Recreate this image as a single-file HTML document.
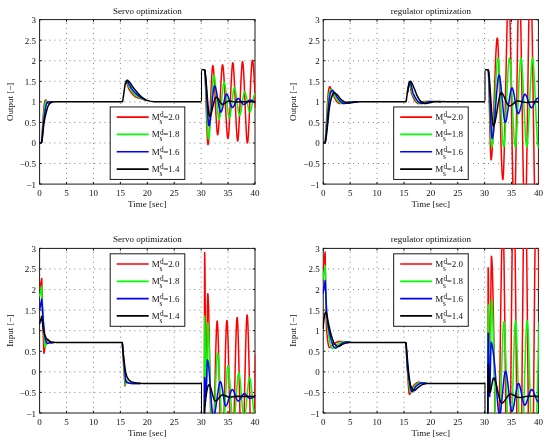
<!DOCTYPE html>
<html><head><meta charset="utf-8"><title>Servo and regulator optimization</title>
<style>html,body{margin:0;padding:0;background:#fff}body{width:550px;height:444px;overflow:hidden}</style>
</head><body>
<svg width="550" height="444" viewBox="0 0 550 444" style="display:block">
<rect width="550" height="444" fill="#fff"/>
<defs>
<clipPath id="ctl"><rect x="39.1" y="19.1" width="216.4" height="165.5"/></clipPath>
<clipPath id="ctr"><rect x="322.75" y="19.1" width="216.14999999999998" height="165.5"/></clipPath>
<clipPath id="cbl"><rect x="39.1" y="247.9" width="216.4" height="165.6"/></clipPath>
<clipPath id="cbr"><rect x="322.75" y="247.9" width="216.14999999999998" height="165.6"/></clipPath>
</defs>
<g stroke="#000" stroke-opacity="0.5" stroke-width="1"><line x1="66.53" y1="22.90" x2="66.53" y2="183.60" stroke-dasharray="1 4"/><line x1="93.45" y1="22.90" x2="93.45" y2="183.60" stroke-dasharray="1 4"/><line x1="120.38" y1="22.90" x2="120.38" y2="183.60" stroke-dasharray="1 4"/><line x1="147.30" y1="22.90" x2="147.30" y2="183.60" stroke-dasharray="1 4"/><line x1="174.22" y1="22.90" x2="174.22" y2="183.60" stroke-dasharray="1 4"/><line x1="201.15" y1="22.90" x2="201.15" y2="183.60" stroke-dasharray="1 4"/><line x1="228.07" y1="22.90" x2="228.07" y2="183.60" stroke-dasharray="1 4"/><line x1="44.40" y1="40.16" x2="254.50" y2="40.16" stroke-dasharray="1 4"/><line x1="44.40" y1="60.73" x2="254.50" y2="60.73" stroke-dasharray="1 4"/><line x1="44.40" y1="81.29" x2="254.50" y2="81.29" stroke-dasharray="1 4"/><line x1="44.40" y1="101.85" x2="254.50" y2="101.85" stroke-dasharray="1 4"/><line x1="44.40" y1="122.41" x2="254.50" y2="122.41" stroke-dasharray="1 4"/><line x1="44.40" y1="142.97" x2="254.50" y2="142.97" stroke-dasharray="1 4"/><line x1="44.40" y1="163.54" x2="254.50" y2="163.54" stroke-dasharray="1 4"/></g>
<path d="M39.60,184.1 v-2.2 M39.60,19.6 v2.2 M39.6,19.60 h2.2 M255.0,19.60 h-2.2 M66.53,184.1 v-2.2 M66.53,19.6 v2.2 M39.6,40.16 h2.2 M255.0,40.16 h-2.2 M93.45,184.1 v-2.2 M93.45,19.6 v2.2 M39.6,60.73 h2.2 M255.0,60.73 h-2.2 M120.38,184.1 v-2.2 M120.38,19.6 v2.2 M39.6,81.29 h2.2 M255.0,81.29 h-2.2 M147.30,184.1 v-2.2 M147.30,19.6 v2.2 M39.6,101.85 h2.2 M255.0,101.85 h-2.2 M174.22,184.1 v-2.2 M174.22,19.6 v2.2 M39.6,122.41 h2.2 M255.0,122.41 h-2.2 M201.15,184.1 v-2.2 M201.15,19.6 v2.2 M39.6,142.97 h2.2 M255.0,142.97 h-2.2 M228.07,184.1 v-2.2 M228.07,19.6 v2.2 M39.6,163.54 h2.2 M255.0,163.54 h-2.2 M255.00,184.1 v-2.2 M255.00,19.6 v2.2 M39.6,184.10 h2.2 M255.0,184.10 h-2.2" stroke="#111" stroke-width="1" fill="none"/>
<rect x="39.6" y="19.6" width="215.4" height="164.5" fill="none" stroke="#1a1a1a" stroke-width="1"/>
<g clip-path="url(#ctl)" fill="none" stroke-width="1.5" stroke-linejoin="round" stroke-linecap="butt">
<path d="M41.28,142.97 L41.39,142.79 L41.52,142.09 L41.80,139.38 L42.74,124.00 L43.55,112.13 L44.23,104.48 L44.50,102.44 L44.63,101.85 L45.17,100.46 L45.44,100.06 L45.66,99.96 L45.84,100.06 L45.98,100.25 L46.66,101.64 L47.33,102.61 L47.73,103.09 L48.01,103.26 L48.27,103.28 L48.68,103.15 L50.16,102.30 L52.46,101.91 M125.25,84.17 L125.77,82.44 L125.90,82.32 L126.04,82.34 L126.44,82.72 L126.71,83.18 L127.12,84.11 L128.74,88.68 L129.41,89.96 L130.49,91.59 L131.70,93.17 L133.73,95.48 L134.81,96.49 L135.35,96.86 L135.89,97.13 L137.51,97.76 L141.56,98.89 L146.42,100.37 M204.34,69.77 L204.47,69.77 L204.61,70.10 L204.74,71.03 L205.15,77.01 L205.69,90.47 L206.63,119.92 L207.17,134.50 L207.58,141.86 L207.85,144.30 L207.98,144.62 L208.12,144.44 L208.25,143.92 L208.52,141.91 L208.79,138.77 L209.20,132.28 L209.74,121.17 L211.09,89.11 L211.76,75.62 L212.30,68.37 L212.57,66.36 L212.71,65.84 L212.84,65.66 L212.98,65.82 L213.11,66.28 L213.38,68.03 L213.65,70.78 L214.06,76.46 L214.59,86.18 L215.94,114.23 L216.62,126.03 L217.16,132.38 L217.43,134.13 L217.57,134.59 L217.70,134.75 L217.84,134.59 L217.97,134.13 L218.24,132.35 L218.51,129.57 L218.92,123.83 L219.46,113.98 L220.94,82.96 L221.48,73.66 L222.02,67.24 L222.29,65.46 L222.43,65.00 L222.56,64.84 L222.69,64.97 L222.83,65.37 L223.10,66.90 L223.37,69.31 L223.78,74.34 L224.45,85.58 L225.94,115.16 L226.61,126.95 L227.02,132.48 L227.28,135.29 L227.56,137.27 L227.83,138.32 L227.96,138.45 L228.09,138.28 L228.37,136.96 L228.63,134.48 L228.91,130.98 L229.58,118.83 L231.07,85.26 L231.61,74.60 L232.01,68.39 L232.28,65.38 L232.55,63.46 L232.69,62.95 L232.82,62.78 L232.96,62.96 L233.09,63.48 L233.36,65.46 L233.90,72.64 L234.44,83.04 L235.93,117.71 L236.47,128.71 L237.01,136.82 L237.28,139.38 L237.54,140.74 L237.68,140.92 L237.82,140.74 L238.09,139.36 L238.36,136.75 L238.76,130.90 L239.44,117.34 L240.78,85.12 L241.33,73.95 L241.87,65.72 L242.14,63.11 L242.41,61.73 L242.54,61.55 L242.68,61.73 L242.94,63.15 L243.22,65.82 L243.62,71.82 L244.16,82.66 L245.65,118.79 L246.19,130.25 L246.73,138.70 L247.00,141.37 L247.27,142.79 L247.40,142.97 L247.53,142.80 L247.81,141.42 L248.08,138.81 L248.48,132.95 L249.16,119.32 L250.51,86.47 L251.04,74.78 L251.59,65.83 L251.86,62.78 L252.12,60.89 L252.26,60.43 L252.37,60.31 L252.53,60.46 L252.67,60.82 L252.94,62.12 L253.34,65.51 L253.75,70.52 L254.56,84.91 L255.50,108.02" stroke="#ff0000"/>
<path d="M41.39,142.86 L41.66,141.71 L42.06,138.13 L43.95,113.63 L44.77,105.47 L45.17,103.08 L45.71,101.64 L45.98,101.19 L46.25,101.03 L46.66,101.15 L47.60,101.85 L48.01,102.04 L48.81,102.03 L50.98,101.86 L53.00,101.85 M125.36,83.77 L125.77,82.36 L126.04,81.71 L126.28,81.49 L126.44,81.53 L126.71,81.74 L126.98,82.11 L127.39,82.89 L129.00,86.80 L131.03,90.22 L131.98,91.60 L133.19,93.09 L134.27,94.25 L135.22,95.09 L136.97,96.25 L139.13,97.38 L143.86,99.42 L146.29,100.30 M204.47,69.77 L204.61,70.00 L204.88,71.71 L205.15,74.89 L205.42,79.30 L205.96,90.83 L207.17,120.95 L207.71,131.68 L208.12,136.93 L208.38,138.64 L208.52,138.86 L208.66,138.74 L208.79,138.40 L209.06,137.08 L209.33,134.99 L209.74,130.63 L210.41,120.90 L211.90,95.29 L212.57,85.08 L212.98,80.29 L213.25,77.86 L213.52,76.14 L213.78,75.24 L213.92,75.12 L214.06,75.21 L214.33,75.91 L214.59,77.22 L215.00,80.20 L215.68,87.16 L217.16,105.89 L217.84,113.24 L218.24,116.56 L218.51,118.16 L218.78,119.18 L218.92,119.44 L219.05,119.53 L219.19,119.46 L219.32,119.23 L219.59,118.38 L220.13,115.26 L220.81,109.39 L222.29,93.61 L222.83,88.52 L223.24,85.45 L223.51,83.88 L223.78,82.77 L224.04,82.19 L224.18,82.11 L224.32,82.18 L224.59,82.75 L224.86,83.82 L225.26,86.25 L225.94,91.92 L227.42,107.18 L228.09,113.17 L228.50,115.88 L228.77,117.18 L229.04,118.01 L229.18,118.23 L229.31,118.30 L229.44,118.24 L229.58,118.05 L229.85,117.35 L230.39,114.77 L231.07,109.94 L232.55,96.93 L233.09,92.74 L233.50,90.21 L233.77,88.92 L234.03,88.00 L234.31,87.52 L234.44,87.46 L234.58,87.51 L234.84,87.95 L235.12,88.78 L235.52,90.65 L236.19,95.04 L237.68,106.83 L238.36,111.46 L238.76,113.55 L239.03,114.56 L239.30,115.20 L239.44,115.36 L239.57,115.42 L239.84,115.23 L240.11,114.69 L240.38,113.84 L240.78,112.07 L241.33,109.01 L242.81,99.04 L243.35,95.83 L243.89,93.36 L244.16,92.51 L244.43,91.96 L244.70,91.77 L244.97,91.94 L245.24,92.40 L245.65,93.59 L246.46,97.29 L247.94,105.88 L248.62,109.25 L249.02,110.77 L249.29,111.50 L249.56,111.97 L249.83,112.13 L250.10,111.99 L250.37,111.57 L250.64,110.92 L251.04,109.57 L251.72,106.57 L253.21,98.94 L254.02,95.65 L254.42,94.60 L254.69,94.18 L254.96,94.04 L255.09,94.07 L255.50,94.45" stroke="#00ff00"/>
<path d="M41.39,142.88 L41.66,141.88 L42.06,138.77 L43.28,124.94 L44.23,116.92 L44.77,112.99 L45.44,108.80 L45.84,106.52 L46.25,104.72 L46.52,103.91 L47.06,102.73 L47.47,102.10 L47.73,101.88 L53.00,101.85 M125.50,83.31 L125.90,82.01 L126.31,81.04 L126.58,80.72 L126.71,80.67 L127.12,80.87 L127.66,81.63 L129.00,84.35 L131.57,88.51 L133.19,90.70 L134.81,92.58 L137.11,94.66 L139.67,96.59 L141.16,97.54 L143.18,98.72 L145.61,99.97 M204.47,69.77 L204.61,69.91 L204.74,70.33 L205.01,71.91 L205.55,77.60 L206.09,85.76 L207.58,111.93 L208.12,119.57 L208.38,122.43 L208.66,124.47 L208.93,125.56 L209.06,125.70 L209.20,125.63 L209.33,125.42 L209.60,124.63 L209.87,123.37 L210.28,120.74 L210.95,114.84 L212.44,99.12 L213.11,92.72 L213.78,88.00 L214.19,86.35 L214.46,85.86 L214.57,85.81 L214.73,85.86 L215.13,86.42 L215.54,87.52 L215.94,89.07 L216.76,93.20 L218.51,103.96 L219.19,107.63 L219.59,109.44 L220.00,110.85 L220.40,111.77 L220.67,112.08 L220.94,112.11 L221.34,111.72 L221.62,111.21 L222.02,110.13 L222.83,107.08 L224.45,99.64 L225.12,96.93 L225.80,94.98 L226.21,94.31 L226.48,94.13 L226.75,94.16 L227.15,94.51 L227.42,94.91 L227.83,95.74 L228.63,98.00 L230.26,103.43 L230.93,105.40 L231.61,106.83 L232.01,107.32 L232.28,107.47 L232.55,107.46 L232.96,107.24 L233.63,106.40 L234.44,104.84 L235.93,101.42 L236.60,100.03 L237.28,99.00 L237.68,98.62 L237.95,98.50 L238.22,98.48 L238.62,98.61 L239.30,99.15 L240.11,100.16 L242.27,103.38 L242.94,104.09 L243.35,104.36 L243.62,104.46 L243.89,104.48 L244.29,104.41 L245.11,103.98 L245.92,103.27 L248.21,100.91 L249.02,100.34 L249.69,100.13 L250.51,100.15 L251.32,100.28 L252.12,100.52 L252.80,100.80 L254.15,101.64 L255.50,102.88" stroke="#0000ff"/>
<path d="M39.50,142.97 L41.28,142.97 L41.39,142.89 L41.66,142.09 L42.06,140.25 L42.47,137.35 L43.55,126.73 L43.95,123.31 L44.63,119.34 L45.30,116.04 L46.79,110.06 L47.73,106.91 L48.14,105.96 L48.95,104.58 L49.62,103.70 L50.30,103.08 L51.38,102.41 L52.19,102.10 L53.67,101.93 L55.30,101.85 L122.28,101.85 L122.39,101.78 L122.53,101.50 L122.93,99.64 L124.69,87.26 L125.09,84.81 L125.63,82.98 L126.17,81.52 L126.71,80.51 L127.12,80.19 L127.52,80.25 L127.93,80.49 L129.55,82.15 L130.36,83.27 L132.11,86.00 L134.14,88.70 L137.51,92.76 L139.81,95.29 L141.43,96.79 L144.26,98.97 L145.88,99.98 L147.23,100.54 L149.93,101.13 L152.50,101.50 L154.39,101.64 L158.98,101.79 L163.43,101.85 L201.50,101.85 M201.50,69.77 L204.47,69.77 L204.61,69.87 L204.74,70.15 L205.15,71.98 L205.55,75.11 L206.09,80.80 L207.71,102.11 L208.38,109.83 L208.79,113.33 L209.06,115.01 L209.33,116.08 L209.47,116.35 L209.60,116.45 L209.87,116.35 L210.28,115.86 L210.55,115.34 L210.95,114.28 L211.76,111.44 L213.65,103.24 L214.46,100.14 L214.87,98.90 L215.27,97.95 L215.68,97.34 L215.94,97.15 L216.22,97.13 L216.62,97.26 L217.03,97.54 L217.43,97.93 L218.24,98.99 L220.13,102.04 L220.94,103.19 L221.75,104.01 L222.16,104.24 L222.43,104.31 L223.10,104.25 L223.91,103.95 L224.72,103.46 L226.61,102.07 L227.42,101.54 L228.23,101.17 L228.91,101.03 L230.39,101.14 L233.77,101.87 L235.25,102.05 L244.03,101.85 L255.50,101.85" stroke="#000000"/>
<line x1="201.50" x2="201.50" y1="101.10" y2="70.52" stroke="#000" stroke-width="1.05"/>
</g>
<g font-family='"Liberation Serif", serif' font-size="9" fill="#111">
<text x="39.60" y="195.60" text-anchor="middle">0</text>
<text x="66.53" y="195.60" text-anchor="middle">5</text>
<text x="93.45" y="195.60" text-anchor="middle">10</text>
<text x="120.38" y="195.60" text-anchor="middle">15</text>
<text x="147.30" y="195.60" text-anchor="middle">20</text>
<text x="174.22" y="195.60" text-anchor="middle">25</text>
<text x="201.15" y="195.60" text-anchor="middle">30</text>
<text x="228.07" y="195.60" text-anchor="middle">35</text>
<text x="255.00" y="195.60" text-anchor="middle">40</text>
<text x="36.10" y="23.10" text-anchor="end">3</text>
<text x="36.10" y="43.66" text-anchor="end">2.5</text>
<text x="36.10" y="64.22" text-anchor="end">2</text>
<text x="36.10" y="84.79" text-anchor="end">1.5</text>
<text x="36.10" y="105.35" text-anchor="end">1</text>
<text x="36.10" y="125.91" text-anchor="end">0.5</text>
<text x="36.10" y="146.47" text-anchor="end">0</text>
<text x="36.10" y="167.04" text-anchor="end">−0.5</text>
<text x="36.10" y="187.60" text-anchor="end">−1</text>
<text x="147.30" y="206.60" text-anchor="middle">Time [sec]</text>
<text x="147.30" y="13.50" text-anchor="middle">Servo optimization</text>
<text transform="translate(12.80,101.85) rotate(-90)" text-anchor="middle">Output [−]</text>
</g>
<rect x="110.20" y="106.95" width="74.6" height="72.5" fill="#fff" stroke="#1a1a1a" stroke-width="1"/>
<g font-family='"Liberation Serif", serif' font-size="9" fill="#111">
<line x1="116.70" y1="117.15" x2="148.70" y2="117.15" stroke="#ff0000" stroke-width="1.7"/>
<text y="120.10"><tspan x="151.70">M</tspan><tspan font-size="7.3" x="160.10" y="117.30">d</tspan><tspan font-size="7.3" x="159.50" y="124.10">s</tspan><tspan x="163.20" y="120.10">=2.0</tspan></text>
<line x1="116.70" y1="134.45" x2="148.70" y2="134.45" stroke="#00ff00" stroke-width="1.7"/>
<text y="137.40"><tspan x="151.70">M</tspan><tspan font-size="7.3" x="160.10" y="134.60">d</tspan><tspan font-size="7.3" x="159.50" y="141.40">s</tspan><tspan x="163.20" y="137.40">=1.8</tspan></text>
<line x1="116.70" y1="151.75" x2="148.70" y2="151.75" stroke="#0000ff" stroke-width="1.7"/>
<text y="154.70"><tspan x="151.70">M</tspan><tspan font-size="7.3" x="160.10" y="151.90">d</tspan><tspan font-size="7.3" x="159.50" y="158.70">s</tspan><tspan x="163.20" y="154.70">=1.6</tspan></text>
<line x1="116.70" y1="169.05" x2="148.70" y2="169.05" stroke="#000000" stroke-width="1.7"/>
<text y="172.00"><tspan x="151.70">M</tspan><tspan font-size="7.3" x="160.10" y="169.20">d</tspan><tspan font-size="7.3" x="159.50" y="176.00">s</tspan><tspan x="163.20" y="172.00">=1.4</tspan></text>
</g>
<g stroke="#000" stroke-opacity="0.5" stroke-width="1"><line x1="350.14" y1="22.90" x2="350.14" y2="183.60" stroke-dasharray="1 4"/><line x1="377.04" y1="22.90" x2="377.04" y2="183.60" stroke-dasharray="1 4"/><line x1="403.93" y1="22.90" x2="403.93" y2="183.60" stroke-dasharray="1 4"/><line x1="430.82" y1="22.90" x2="430.82" y2="183.60" stroke-dasharray="1 4"/><line x1="457.72" y1="22.90" x2="457.72" y2="183.60" stroke-dasharray="1 4"/><line x1="484.61" y1="22.90" x2="484.61" y2="183.60" stroke-dasharray="1 4"/><line x1="511.51" y1="22.90" x2="511.51" y2="183.60" stroke-dasharray="1 4"/><line x1="328.05" y1="40.16" x2="537.90" y2="40.16" stroke-dasharray="1 4"/><line x1="328.05" y1="60.73" x2="537.90" y2="60.73" stroke-dasharray="1 4"/><line x1="328.05" y1="81.29" x2="537.90" y2="81.29" stroke-dasharray="1 4"/><line x1="328.05" y1="101.85" x2="537.90" y2="101.85" stroke-dasharray="1 4"/><line x1="328.05" y1="122.41" x2="537.90" y2="122.41" stroke-dasharray="1 4"/><line x1="328.05" y1="142.97" x2="537.90" y2="142.97" stroke-dasharray="1 4"/><line x1="328.05" y1="163.54" x2="537.90" y2="163.54" stroke-dasharray="1 4"/></g>
<path d="M323.25,184.1 v-2.2 M323.25,19.6 v2.2 M323.25,19.60 h2.2 M538.4,19.60 h-2.2 M350.14,184.1 v-2.2 M350.14,19.6 v2.2 M323.25,40.16 h2.2 M538.4,40.16 h-2.2 M377.04,184.1 v-2.2 M377.04,19.6 v2.2 M323.25,60.73 h2.2 M538.4,60.73 h-2.2 M403.93,184.1 v-2.2 M403.93,19.6 v2.2 M323.25,81.29 h2.2 M538.4,81.29 h-2.2 M430.82,184.1 v-2.2 M430.82,19.6 v2.2 M323.25,101.85 h2.2 M538.4,101.85 h-2.2 M457.72,184.1 v-2.2 M457.72,19.6 v2.2 M323.25,122.41 h2.2 M538.4,122.41 h-2.2 M484.61,184.1 v-2.2 M484.61,19.6 v2.2 M323.25,142.97 h2.2 M538.4,142.97 h-2.2 M511.51,184.1 v-2.2 M511.51,19.6 v2.2 M323.25,163.54 h2.2 M538.4,163.54 h-2.2 M538.40,184.1 v-2.2 M538.40,19.6 v2.2 M323.25,184.10 h2.2 M538.4,184.10 h-2.2" stroke="#111" stroke-width="1" fill="none"/>
<rect x="323.25" y="19.6" width="215.14999999999998" height="164.5" fill="none" stroke="#1a1a1a" stroke-width="1"/>
<g clip-path="url(#ctr)" fill="none" stroke-width="1.5" stroke-linejoin="round" stroke-linecap="butt">
<path d="M324.89,142.97 L325.02,142.68 L325.16,141.86 L325.56,136.94 L326.64,118.23 L327.32,105.25 L328.00,95.68 L328.54,90.25 L329.07,87.93 L329.48,86.87 L329.62,86.69 L329.75,86.63 L329.88,86.68 L330.15,86.98 L330.43,87.50 L331.37,89.75 L332.99,94.30 L334.20,97.05 L335.42,99.42 L336.37,101.00 L336.90,101.71 L337.99,102.71 L338.80,103.29 L339.47,103.55 L340.28,103.54 L341.23,103.34 L343.25,102.67 L344.06,102.47 L346.89,102.01 L349.32,101.77 L351.49,101.69 L356.75,101.83 M407.24,93.62 L408.59,84.78 L409.00,83.22 L409.13,82.99 L409.26,82.94 L409.40,83.05 L409.54,83.30 L409.94,84.76 L411.02,90.89 L411.43,92.77 L412.37,95.42 L413.59,98.28 L414.67,100.29 L415.61,101.57 L416.96,102.84 L417.50,103.24 L418.04,103.52 L418.44,103.61 L418.85,103.60 L419.66,103.32 L421.42,102.25 L422.09,101.93 L423.71,101.56 L425.06,101.38 L427.22,101.41 L432.49,101.82 M435.05,101.85 L441.39,101.85 M488.08,69.77 L488.24,70.52 L488.38,72.21 L488.78,82.08 L489.19,97.14 L490.13,137.90 L490.53,151.52 L490.81,157.40 L490.94,159.09 L491.08,159.81 L491.21,159.73 L491.48,158.52 L491.88,154.43 L492.29,147.99 L492.70,139.60 L493.37,122.44 L495.12,71.82 L495.67,58.34 L496.07,49.96 L496.48,43.51 L496.88,39.43 L497.01,38.66 L497.15,38.22 L497.26,38.11 L497.42,38.46 L497.56,39.27 L497.83,42.22 L498.10,46.75 L498.77,63.79 L499.44,86.52 L500.93,141.67 L501.61,162.27 L502.01,171.45 L502.28,175.83 L502.55,178.61 L502.69,179.33 L502.82,179.58 L502.96,179.28 L503.23,177.01 L503.63,169.79 L504.31,149.44 L504.98,121.61 L506.74,38.66 L507.54,7.61 L507.95,-3.52 L508.22,-8.81 L508.36,-10.40 L509.03,-10.40 L509.17,-9.54 L509.30,-6.74 L509.57,0.94 L510.25,30.13 L510.78,60.87 L512.27,155.07 L513.08,196.73 L513.35,206.87 L513.62,214.10 L514.57,214.10 L514.70,213.68 L514.97,205.01 L515.51,179.90 L516.05,147.21 L517.53,45.74 L518.35,2.01 L518.62,-8.07 L518.75,-10.40 L519.83,-10.40 L519.97,-9.73 L520.24,-1.04 L520.91,29.86 L523.07,164.83 L523.88,205.70 L524.15,214.10 L525.63,214.10 L525.77,213.60 L525.90,208.31 L526.45,181.33 L526.99,147.36 L528.61,34.56 L529.01,10.73 L529.41,-8.72 L529.55,-10.40 L531.31,-10.40 L531.71,7.02 L532.25,37.17 L534.14,165.86 L534.95,213.13 L535.09,214.10 L538.33,214.10 L538.60,205.75 L539.00,188.88 L539.81,147.06 L540.75,84.79 L541.84,-3.99 L541.97,-10.40 L542.24,-10.40" stroke="#ff0000"/>
<path d="M324.89,142.97 L325.02,142.79 L325.30,141.42 L325.83,135.72 L326.92,120.55 L327.86,105.05 L328.13,101.85 L328.81,96.02 L329.35,92.58 L329.75,91.16 L330.43,89.99 L330.83,89.60 L331.10,89.51 L331.37,89.61 L331.64,89.86 L332.05,90.44 L333.12,92.29 L335.01,96.60 L335.56,97.61 L336.10,98.41 L337.18,99.82 L338.39,101.13 L340.42,102.88 L341.23,103.41 L341.90,103.58 L342.85,103.49 L343.79,103.28 L346.49,102.52 L350.27,101.92 L353.64,101.73 L357.15,101.78 M407.24,93.62 L408.73,84.63 L409.13,82.99 L409.40,82.42 L409.56,82.32 L409.81,82.50 L409.94,82.74 L410.35,83.99 L411.97,91.85 L412.24,92.83 L412.91,94.54 L414.26,97.51 L415.48,99.69 L416.15,100.67 L416.69,101.32 L418.04,102.54 L418.72,103.05 L419.25,103.37 L419.80,103.57 L420.34,103.62 L420.88,103.54 L421.55,103.33 L424.52,101.99 L426.68,101.57 L427.76,101.46 L428.98,101.45 L433.30,101.72 M435.32,101.83 L441.39,101.85 M488.08,69.77 L488.24,70.21 L488.51,72.73 L488.78,77.17 L489.05,83.16 L490.53,127.30 L491.08,140.21 L491.48,145.89 L491.62,146.78 L491.75,147.09 L491.88,146.96 L492.15,146.00 L492.56,142.93 L492.97,138.18 L493.37,132.04 L494.05,119.53 L495.80,82.73 L496.34,72.90 L496.75,66.76 L497.15,62.01 L497.56,58.94 L497.83,57.97 L497.96,57.85 L498.10,58.00 L498.23,58.43 L498.50,60.12 L498.77,62.78 L499.44,72.97 L500.12,86.77 L501.61,120.92 L502.42,136.37 L502.82,141.95 L503.09,144.61 L503.36,146.30 L503.50,146.73 L503.63,146.88 L503.76,146.74 L503.90,146.33 L504.31,143.58 L504.71,138.85 L505.12,132.50 L505.79,119.29 L507.54,80.38 L508.36,66.25 L508.76,61.41 L509.03,59.24 L509.30,58.05 L509.44,57.85 L509.57,57.94 L509.71,58.31 L509.98,59.83 L510.38,63.87 L511.06,74.42 L511.73,88.23 L513.22,121.74 L513.89,134.57 L514.29,140.52 L514.57,143.52 L514.97,146.32 L515.11,146.74 L515.24,146.88 L515.38,146.74 L515.51,146.31 L515.91,143.48 L516.32,138.61 L516.73,132.08 L517.40,118.55 L519.02,81.98 L519.83,67.31 L520.24,62.20 L520.50,59.88 L520.77,58.54 L520.91,58.28 L521.04,58.31 L521.32,59.20 L521.72,62.41 L522.39,71.87 L523.07,85.00 L524.69,121.29 L525.50,136.36 L525.90,141.84 L526.17,144.49 L526.44,146.20 L526.58,146.68 L526.74,146.88 L526.85,146.79 L526.99,146.42 L527.12,145.79 L527.39,143.77 L527.79,139.09 L528.20,132.74 L528.88,119.44 L530.50,82.99 L531.31,68.00 L531.71,62.60 L531.98,60.03 L532.25,58.41 L532.38,57.99 L532.52,57.85 L532.65,57.99 L532.92,59.10 L533.33,62.60 L534.00,72.47 L534.68,85.87 L536.43,125.08 L537.25,139.09 L537.65,143.77 L538.06,146.42 L538.19,146.79 L538.30,146.88 L538.46,146.76 L538.73,146.11 L539.00,145.03" stroke="#00ff00"/>
<path d="M324.89,142.97 L325.02,142.85 L325.16,142.49 L325.43,141.14 L325.97,136.52 L327.45,119.69 L328.54,105.70 L328.94,101.85 L329.75,96.37 L330.29,93.59 L330.69,92.25 L331.50,90.98 L331.91,90.56 L332.31,90.35 L332.72,90.41 L333.12,90.73 L334.75,92.97 L337.04,97.09 L338.52,99.13 L339.61,100.42 L340.55,101.38 L342.44,102.99 L343.25,103.47 L343.79,103.58 L344.87,103.48 L348.51,102.54 L352.02,102.01 L355.00,101.78 L357.69,101.73 M407.51,92.17 L408.59,85.94 L409.13,83.41 L409.40,82.50 L409.67,81.91 L409.81,81.75 L409.94,81.70 L410.07,81.74 L410.21,81.88 L410.48,82.38 L410.88,83.62 L412.50,90.96 L412.91,92.47 L413.18,93.21 L414.67,96.36 L416.01,98.76 L417.37,100.65 L418.04,101.38 L418.58,101.85 L419.66,102.68 L420.47,103.21 L421.14,103.51 L421.82,103.62 L422.50,103.56 L423.31,103.37 L426.41,102.18 L427.62,101.87 L431.27,101.54 L434.78,101.58 M438.83,101.78 L441.26,101.85 M488.11,69.78 L488.24,70.09 L488.51,71.90 L488.92,77.18 L489.46,87.78 L490.67,117.35 L491.21,128.72 L491.48,133.11 L491.75,136.33 L492.02,138.14 L492.15,138.44 L492.29,138.40 L492.43,138.22 L492.83,136.86 L493.24,134.43 L493.64,131.08 L494.59,120.57 L496.48,95.07 L497.28,85.44 L497.69,81.51 L498.10,78.39 L498.50,76.23 L498.77,75.41 L498.91,75.19 L499.04,75.12 L499.18,75.18 L499.31,75.38 L499.58,76.12 L499.99,78.06 L500.39,80.83 L501.20,88.25 L502.96,107.67 L503.63,114.27 L504.03,117.50 L504.44,120.01 L504.85,121.63 L505.12,122.14 L505.25,122.21 L505.52,122.05 L505.93,121.25 L506.33,119.85 L506.74,117.95 L507.54,113.00 L509.44,98.97 L510.25,93.62 L510.65,91.44 L511.06,89.70 L511.46,88.49 L511.73,88.03 L511.87,87.91 L512.13,87.90 L512.27,88.01 L512.54,88.42 L512.94,89.47 L513.35,90.98 L514.16,95.03 L515.91,105.63 L516.59,109.24 L517.00,111.00 L517.40,112.37 L517.81,113.26 L518.08,113.53 L518.21,113.57 L518.48,113.48 L518.88,113.03 L519.29,112.24 L519.69,111.18 L520.50,108.39 L522.39,100.49 L523.21,97.48 L523.61,96.25 L524.01,95.27 L524.42,94.59 L524.69,94.33 L524.83,94.26 L525.10,94.26 L525.50,94.51 L525.90,95.02 L526.31,95.75 L527.12,97.74 L529.01,103.46 L529.82,105.62 L530.23,106.49 L530.63,107.15 L531.03,107.58 L531.31,107.71 L531.71,107.68 L532.12,107.42 L532.52,106.96 L532.92,106.35 L533.74,104.77 L535.62,100.54 L536.16,99.53 L536.71,98.75 L537.25,98.27 L537.51,98.16 L537.78,98.16 L538.33,98.39 L539.00,98.97" stroke="#0000ff"/>
<path d="M323.00,142.97 L324.89,142.97 L325.02,142.90 L325.30,142.35 L325.56,141.30 L326.11,138.01 L326.64,133.60 L328.00,121.13 L328.81,112.35 L329.48,107.43 L330.02,104.08 L330.56,101.25 L330.96,99.49 L331.50,97.54 L332.05,95.89 L332.58,94.67 L333.26,93.64 L333.80,93.02 L334.20,92.81 L334.61,92.84 L335.15,93.07 L336.77,94.26 L337.58,95.16 L339.88,98.25 L341.50,99.83 L342.85,100.97 L343.93,101.67 L345.55,102.43 L346.76,102.89 L347.84,103.13 L348.65,103.16 L349.73,103.07 L352.83,102.53 L357.02,101.94 L360.94,101.74 L368.76,101.85 L405.84,101.85 L406.02,101.55 L406.30,100.28 L407.11,94.38 L408.86,85.08 L409.26,83.35 L409.67,82.07 L409.94,81.53 L410.07,81.37 L410.26,81.29 L410.62,81.39 L411.02,81.75 L411.43,82.31 L411.97,83.32 L414.67,89.57 L416.96,95.41 L417.50,96.50 L418.99,99.06 L420.06,100.63 L421.01,101.64 L422.90,102.92 L423.57,103.26 L424.25,103.51 L425.06,103.62 L426.27,103.52 L427.76,103.21 L430.87,102.30 L432.22,101.98 L434.11,101.77 L436.67,101.62 L439.24,101.62 L446.93,101.85 L485.00,101.85 M485.00,69.77 L488.11,69.78 L488.24,69.93 L488.38,70.28 L488.64,71.57 L489.19,76.11 L489.73,82.70 L491.48,109.54 L492.15,118.39 L492.56,122.37 L492.83,124.27 L493.10,125.48 L493.24,125.80 L493.37,125.91 L493.50,125.88 L493.77,125.65 L494.18,124.92 L494.59,123.76 L495.12,121.66 L496.07,116.81 L498.23,103.48 L499.18,98.30 L499.72,95.92 L500.12,94.52 L500.66,93.25 L501.07,92.83 L501.47,92.85 L502.01,93.17 L502.42,93.60 L502.96,94.39 L504.03,96.51 L506.19,101.64 L507.14,103.65 L507.68,104.59 L508.09,105.16 L508.62,105.70 L509.03,105.92 L509.44,105.96 L509.98,105.88 L510.51,105.70 L511.19,105.36 L512.27,104.61 L514.70,102.59 L515.64,101.89 L516.59,101.35 L517.53,101.06 L518.48,101.04 L519.83,101.19 L524.69,102.22 L526.72,102.46 L528.88,102.37 L532.92,101.81 L534.54,101.66 L536.71,101.68 L539.00,101.85" stroke="#000000"/>
<line x1="485.00" x2="485.00" y1="101.10" y2="70.52" stroke="#000" stroke-width="1.05"/>
</g>
<g font-family='"Liberation Serif", serif' font-size="9" fill="#111">
<text x="323.25" y="195.60" text-anchor="middle">0</text>
<text x="350.14" y="195.60" text-anchor="middle">5</text>
<text x="377.04" y="195.60" text-anchor="middle">10</text>
<text x="403.93" y="195.60" text-anchor="middle">15</text>
<text x="430.82" y="195.60" text-anchor="middle">20</text>
<text x="457.72" y="195.60" text-anchor="middle">25</text>
<text x="484.61" y="195.60" text-anchor="middle">30</text>
<text x="511.51" y="195.60" text-anchor="middle">35</text>
<text x="538.40" y="195.60" text-anchor="middle">40</text>
<text x="319.75" y="23.10" text-anchor="end">3</text>
<text x="319.75" y="43.66" text-anchor="end">2.5</text>
<text x="319.75" y="64.22" text-anchor="end">2</text>
<text x="319.75" y="84.79" text-anchor="end">1.5</text>
<text x="319.75" y="105.35" text-anchor="end">1</text>
<text x="319.75" y="125.91" text-anchor="end">0.5</text>
<text x="319.75" y="146.47" text-anchor="end">0</text>
<text x="319.75" y="167.04" text-anchor="end">−0.5</text>
<text x="319.75" y="187.60" text-anchor="end">−1</text>
<text x="430.82" y="206.60" text-anchor="middle">Time [sec]</text>
<text x="430.82" y="13.50" text-anchor="middle">regulator optimization</text>
<text transform="translate(296.45,101.85) rotate(-90)" text-anchor="middle">Output [−]</text>
</g>
<rect x="393.65" y="106.95" width="74.6" height="72.5" fill="#fff" stroke="#1a1a1a" stroke-width="1"/>
<g font-family='"Liberation Serif", serif' font-size="9" fill="#111">
<line x1="400.15" y1="117.15" x2="432.15" y2="117.15" stroke="#ff0000" stroke-width="1.7"/>
<text y="120.10"><tspan x="435.15">M</tspan><tspan font-size="7.3" x="443.55" y="117.30">d</tspan><tspan font-size="7.3" x="442.95" y="124.10">s</tspan><tspan x="446.65" y="120.10">=2.0</tspan></text>
<line x1="400.15" y1="134.45" x2="432.15" y2="134.45" stroke="#00ff00" stroke-width="1.7"/>
<text y="137.40"><tspan x="435.15">M</tspan><tspan font-size="7.3" x="443.55" y="134.60">d</tspan><tspan font-size="7.3" x="442.95" y="141.40">s</tspan><tspan x="446.65" y="137.40">=1.8</tspan></text>
<line x1="400.15" y1="151.75" x2="432.15" y2="151.75" stroke="#0000ff" stroke-width="1.7"/>
<text y="154.70"><tspan x="435.15">M</tspan><tspan font-size="7.3" x="443.55" y="151.90">d</tspan><tspan font-size="7.3" x="442.95" y="158.70">s</tspan><tspan x="446.65" y="154.70">=1.6</tspan></text>
<line x1="400.15" y1="169.05" x2="432.15" y2="169.05" stroke="#000000" stroke-width="1.7"/>
<text y="172.00"><tspan x="435.15">M</tspan><tspan font-size="7.3" x="443.55" y="169.20">d</tspan><tspan font-size="7.3" x="442.95" y="176.00">s</tspan><tspan x="446.65" y="172.00">=1.4</tspan></text>
</g>
<g stroke="#000" stroke-opacity="0.5" stroke-width="1"><line x1="66.53" y1="251.70" x2="66.53" y2="412.50" stroke-dasharray="1 4"/><line x1="93.45" y1="251.70" x2="93.45" y2="412.50" stroke-dasharray="1 4"/><line x1="120.38" y1="251.70" x2="120.38" y2="412.50" stroke-dasharray="1 4"/><line x1="147.30" y1="251.70" x2="147.30" y2="412.50" stroke-dasharray="1 4"/><line x1="174.22" y1="251.70" x2="174.22" y2="412.50" stroke-dasharray="1 4"/><line x1="201.15" y1="251.70" x2="201.15" y2="412.50" stroke-dasharray="1 4"/><line x1="228.07" y1="251.70" x2="228.07" y2="412.50" stroke-dasharray="1 4"/><line x1="44.40" y1="268.98" x2="254.50" y2="268.98" stroke-dasharray="1 4"/><line x1="44.40" y1="289.55" x2="254.50" y2="289.55" stroke-dasharray="1 4"/><line x1="44.40" y1="310.12" x2="254.50" y2="310.12" stroke-dasharray="1 4"/><line x1="44.40" y1="330.70" x2="254.50" y2="330.70" stroke-dasharray="1 4"/><line x1="44.40" y1="351.27" x2="254.50" y2="351.27" stroke-dasharray="1 4"/><line x1="44.40" y1="371.85" x2="254.50" y2="371.85" stroke-dasharray="1 4"/><line x1="44.40" y1="392.43" x2="254.50" y2="392.43" stroke-dasharray="1 4"/></g>
<path d="M39.60,413.0 v-2.2 M39.60,248.4 v2.2 M39.6,248.40 h2.2 M255.0,248.40 h-2.2 M66.53,413.0 v-2.2 M66.53,248.4 v2.2 M39.6,268.98 h2.2 M255.0,268.98 h-2.2 M93.45,413.0 v-2.2 M93.45,248.4 v2.2 M39.6,289.55 h2.2 M255.0,289.55 h-2.2 M120.38,413.0 v-2.2 M120.38,248.4 v2.2 M39.6,310.12 h2.2 M255.0,310.12 h-2.2 M147.30,413.0 v-2.2 M147.30,248.4 v2.2 M39.6,330.70 h2.2 M255.0,330.70 h-2.2 M174.22,413.0 v-2.2 M174.22,248.4 v2.2 M39.6,351.27 h2.2 M255.0,351.27 h-2.2 M201.15,413.0 v-2.2 M201.15,248.4 v2.2 M39.6,371.85 h2.2 M255.0,371.85 h-2.2 M228.07,413.0 v-2.2 M228.07,248.4 v2.2 M39.6,392.43 h2.2 M255.0,392.43 h-2.2 M255.00,413.0 v-2.2 M255.00,248.4 v2.2 M39.6,413.00 h2.2 M255.0,413.00 h-2.2" stroke="#111" stroke-width="1" fill="none"/>
<rect x="39.6" y="248.4" width="215.4" height="164.6" fill="none" stroke="#1a1a1a" stroke-width="1"/>
<g clip-path="url(#cbl)" fill="none" stroke-width="1.5" stroke-linejoin="round" stroke-linecap="butt">
<path d="M39.50,289.55 L41.77,278.44 L42.74,318.36 L43.31,337.43 L43.87,353.33 L44.69,348.80 L45.36,345.80 L46.71,341.14 L47.12,340.12 L47.52,339.49 L47.66,339.38 L47.93,339.36 L48.34,339.67 L48.74,340.28 L49.82,342.31 L50.23,342.84 L50.50,343.02 L51.44,342.97 L54.15,342.41 M122.28,342.39 L123.63,365.95 L124.98,385.84 L125.79,382.14 L126.06,381.35 L126.20,381.09 L126.44,380.90 L126.74,381.00 L127.01,381.23 L127.96,382.44 L128.36,382.84 L128.60,382.96 L129.98,383.27 L131.07,383.43 L132.15,383.49 L140.66,383.50 M201.50,441.81 L201.63,442.98 L204.20,443.00 L204.34,404.22 L204.63,252.52 L204.74,254.70 L204.88,262.88 L205.01,275.85 L205.69,366.04 L205.96,389.05 L206.09,392.43 L206.23,390.71 L206.36,385.95 L206.63,369.52 L207.44,305.77 L207.71,294.77 L207.82,293.67 L207.98,294.34 L208.25,298.28 L208.52,305.33 L209.06,326.90 L210.68,417.97 L211.09,438.65 L211.22,443.00 L213.52,443.00 L213.65,442.40 L215.41,365.46 L215.94,344.40 L216.35,332.11 L216.62,326.16 L216.89,322.36 L217.03,321.37 L217.16,321.03 L217.29,321.37 L217.43,322.36 L217.70,326.16 L217.97,332.11 L218.38,344.40 L218.92,365.46 L220.40,431.83 L220.67,442.40 L220.81,443.00 L223.24,443.00 L223.37,442.28 L225.12,365.02 L225.67,343.88 L226.21,328.30 L226.48,323.37 L226.75,320.75 L226.88,320.41 L227.02,320.72 L227.15,321.63 L227.42,325.12 L227.69,330.60 L228.09,341.99 L228.77,367.18 L230.26,431.40 L230.53,441.78 L230.66,443.00 L233.36,443.00 L233.50,441.19 L235.25,365.19 L235.79,344.11 L236.19,331.39 L236.47,324.88 L236.74,320.28 L237.01,317.85 L237.14,317.53 L237.28,317.89 L237.54,320.62 L237.82,325.79 L238.22,337.37 L238.90,364.22 L240.38,433.97 L240.65,443.00 L243.35,443.00 L243.49,442.33 L245.24,364.11 L245.78,342.41 L246.19,329.32 L246.46,322.63 L246.73,317.89 L247.00,315.39 L247.13,315.06 L247.27,315.39 L247.40,316.34 L247.67,320.00 L247.94,325.75 L248.34,337.69 L249.02,364.11 L250.64,437.02 L250.78,442.33 L250.91,443.00 L253.75,443.00 L253.88,440.22 L254.42,415.97 L255.50,354.16" stroke="#ff0000"/>
<path d="M39.50,296.55 L41.77,286.26 L42.45,305.50 L43.01,318.36 L44.08,337.25 L44.49,342.84 L44.90,347.16 L45.98,344.37 L46.52,343.32 L46.93,342.77 L47.87,341.96 L48.68,341.50 L49.36,341.40 L50.03,341.55 M51.11,342.02 L52.19,342.37 L53.68,342.39 M122.28,342.39 L123.82,364.61 L125.36,384.61 L126.03,383.35 L126.58,382.56 L127.12,382.06 L127.52,381.93 L128.19,382.11 L129.41,382.84 L129.95,383.10 L131.44,383.33 L133.73,383.49 L140.75,383.50 M201.50,433.57 L202.04,437.59 L202.58,440.03 L202.85,440.78 L203.25,441.45 L203.66,441.74 L204.20,441.81 L204.63,315.89 L204.74,317.08 L204.88,321.56 L205.01,328.65 L205.69,377.99 L205.96,390.58 L206.09,392.43 L206.23,391.22 L206.50,382.76 L207.31,337.63 L207.58,326.62 L207.71,323.66 L207.82,322.88 L207.98,323.29 L208.12,324.22 L208.38,327.56 L208.66,332.65 L209.20,347.05 L210.82,405.12 L211.49,426.17 L212.03,437.55 L212.30,440.70 L212.44,441.52 L212.57,441.81 L212.71,441.62 L212.84,441.10 L213.11,439.07 L213.38,435.88 L213.78,429.27 L214.46,414.63 L215.94,377.31 L216.62,363.45 L217.16,356.07 L217.43,354.04 L217.57,353.51 L217.70,353.33 L217.84,353.50 L217.97,353.98 L218.24,355.81 L218.78,362.50 L219.46,375.08 L220.94,408.93 L221.48,419.83 L221.88,426.41 L222.16,429.77 L222.43,432.15 L222.69,433.41 L222.83,433.57 L222.97,433.44 L223.24,432.37 L223.51,430.35 L223.91,425.80 L224.59,415.14 L226.07,386.45 L226.75,375.19 L227.15,370.11 L227.42,367.66 L227.69,366.10 L227.83,365.69 L227.96,365.55 L228.09,365.66 L228.23,365.99 L228.50,367.23 L228.77,369.19 L229.18,373.27 L229.85,382.40 L231.34,406.43 L232.01,416.00 L232.42,420.49 L232.69,422.78 L232.96,424.39 L233.23,425.23 L233.36,425.35 L233.50,425.25 L233.77,424.50 L234.03,423.08 L234.44,419.87 L235.25,410.50 L236.74,389.34 L237.41,380.90 L237.82,376.95 L238.09,374.94 L238.49,373.05 L238.62,372.77 L238.76,372.67 L238.90,372.76 L239.03,373.01 L239.30,373.97 L239.57,375.50 L239.98,378.68 L240.65,385.77 L242.14,404.46 L242.68,410.56 L243.35,416.35 L243.62,417.87 L243.89,418.84 L244.03,419.09 L244.16,419.17 L244.29,419.10 L244.57,418.51 L244.84,417.39 L245.24,414.85 L246.05,407.46 L247.53,390.76 L248.21,384.10 L248.62,380.98 L248.89,379.40 L249.29,377.91 L249.43,377.69 L249.56,377.61 L249.69,377.68 L249.83,377.89 L250.24,379.24 L250.51,380.68 L250.91,383.53 L251.59,389.59 L253.21,406.07 L253.61,409.55 L254.02,412.40 L254.42,414.41 L254.69,415.19 L254.83,415.40 L254.96,415.47 L255.09,415.36 L255.50,414.23" stroke="#00ff00"/>
<path d="M39.50,310.12 L41.77,299.01 L42.98,316.90 L44.47,333.29 L44.88,336.71 L45.28,339.14 L45.82,340.91 L46.36,342.30 L46.90,343.21 L47.17,343.42 L47.33,343.46 L48.12,343.33 L50.14,342.66 L52.17,342.44 L53.79,342.39 M122.42,344.15 L123.63,358.79 L125.39,377.23 L125.80,380.73 L126.07,381.98 L126.17,382.14 L126.47,382.30 L127.55,382.69 L132.15,383.39 L133.77,383.49 L140.67,383.50 M201.50,425.35 L202.04,429.36 L202.58,431.80 L202.85,432.55 L203.25,433.22 L203.66,433.51 L204.20,433.57 L204.63,377.61 L204.74,378.05 L204.88,379.66 L205.55,394.05 L205.69,395.86 L205.82,396.54 L205.96,395.82 L206.09,393.83 L206.36,387.05 L207.03,365.64 L207.31,360.64 L207.44,359.92 L207.58,360.00 L207.71,360.26 L208.12,361.96 L208.38,363.80 L208.79,367.44 L209.47,375.33 L211.22,399.93 L211.90,408.18 L212.57,414.21 L212.98,416.35 L213.25,417.03 L213.38,417.12 L213.65,416.96 L214.06,416.20 L214.46,414.86 L214.87,413.03 L215.81,407.33 L217.84,392.45 L218.65,387.26 L219.05,385.15 L219.46,383.48 L219.86,382.32 L220.13,381.88 L220.27,381.76 L220.40,381.73 L220.53,381.77 L220.81,382.12 L221.08,382.77 L221.48,384.25 L222.29,388.57 L223.78,398.32 L224.45,402.21 L224.86,404.03 L225.12,404.96 L225.40,405.62 L225.67,405.96 L225.94,405.98 L226.34,405.68 L226.75,405.06 L227.15,404.16 L227.96,401.74 L229.85,394.75 L230.66,392.12 L231.07,391.06 L231.47,390.25 L231.88,389.73 L232.15,389.57 L232.42,389.56 L232.82,389.81 L233.09,390.13 L233.50,390.79 L234.31,392.65 L236.06,397.60 L236.74,399.27 L237.41,400.48 L237.82,400.91 L238.09,401.05 L238.36,401.06 L238.76,400.89 L239.44,400.26 L240.25,399.07 L241.87,396.12 L242.54,395.01 L243.22,394.16 L243.62,393.83 L243.89,393.70 L244.16,393.66 L244.57,393.73 L245.24,394.11 L246.05,394.89 L248.34,397.59 L249.02,398.13 L249.69,398.38 L250.37,398.37 L251.18,398.22 L251.99,397.94 L252.67,397.59 L253.48,397.04 L254.15,396.45 L254.83,395.73 L255.50,394.89" stroke="#0000ff"/>
<path d="M39.50,324.12 L41.77,316.30 L42.58,323.88 L43.25,329.07 L43.79,331.84 L44.74,334.80 L45.28,336.15 L45.82,337.29 L46.36,338.21 L47.04,339.10 L48.25,340.22 L49.33,341.02 L50.41,341.62 L51.36,341.94 L54.06,342.27 L56.63,342.39 L122.28,342.39 L122.96,350.39 L123.77,358.23 L124.99,367.99 L125.39,370.72 L125.74,372.47 L126.74,376.00 L127.28,377.43 L127.82,378.50 L128.77,379.71 L129.72,380.66 L130.66,381.37 L131.74,381.90 L134.04,382.54 L136.48,382.97 L139.99,383.29 L143.64,383.48 L201.50,383.50 M201.50,421.23 L202.04,423.24 L202.58,424.46 L202.85,424.83 L203.25,425.17 L203.66,425.31 L204.20,425.35 L204.34,423.06 L204.74,408.88 L205.28,403.11 L205.82,398.15 L206.50,393.09 L207.31,388.64 L207.71,387.07 L208.12,385.91 L208.52,385.17 L208.93,384.83 L209.20,384.83 L209.60,385.16 L210.00,385.83 L210.41,386.78 L211.22,389.34 L212.98,396.05 L213.65,398.33 L214.06,399.44 L214.46,400.31 L214.87,400.87 L215.13,401.04 L215.54,401.04 L215.94,400.92 L216.76,400.40 L217.70,399.47 L219.86,396.81 L220.67,395.92 L221.62,395.18 L222.02,394.99 L222.43,394.90 L223.24,394.95 L224.04,395.15 L224.99,395.52 L227.83,396.80 L228.63,397.05 L229.44,397.15 L231.07,397.06 L234.71,396.48 L236.33,396.34 L255.50,396.42" stroke="#000000"/>
<line x1="201.50" x2="201.50" y1="382.75" y2="421.98" stroke="#000" stroke-width="1.05"/>
</g>
<g font-family='"Liberation Serif", serif' font-size="9" fill="#111">
<text x="39.60" y="424.50" text-anchor="middle">0</text>
<text x="66.53" y="424.50" text-anchor="middle">5</text>
<text x="93.45" y="424.50" text-anchor="middle">10</text>
<text x="120.38" y="424.50" text-anchor="middle">15</text>
<text x="147.30" y="424.50" text-anchor="middle">20</text>
<text x="174.22" y="424.50" text-anchor="middle">25</text>
<text x="201.15" y="424.50" text-anchor="middle">30</text>
<text x="228.07" y="424.50" text-anchor="middle">35</text>
<text x="255.00" y="424.50" text-anchor="middle">40</text>
<text x="36.10" y="251.90" text-anchor="end">3</text>
<text x="36.10" y="272.48" text-anchor="end">2.5</text>
<text x="36.10" y="293.05" text-anchor="end">2</text>
<text x="36.10" y="313.62" text-anchor="end">1.5</text>
<text x="36.10" y="334.20" text-anchor="end">1</text>
<text x="36.10" y="354.77" text-anchor="end">0.5</text>
<text x="36.10" y="375.35" text-anchor="end">0</text>
<text x="36.10" y="395.93" text-anchor="end">−0.5</text>
<text x="36.10" y="416.50" text-anchor="end">−1</text>
<text x="147.30" y="435.50" text-anchor="middle">Time [sec]</text>
<text x="147.30" y="242.30" text-anchor="middle">Servo optimization</text>
<text transform="translate(12.80,330.70) rotate(-90)" text-anchor="middle">Input [−]</text>
</g>
<rect x="110.20" y="253.80" width="74.6" height="72.5" fill="#fff" stroke="#1a1a1a" stroke-width="1"/>
<g font-family='"Liberation Serif", serif' font-size="9" fill="#111">
<line x1="116.70" y1="264.00" x2="148.70" y2="264.00" stroke="#ff0000" stroke-width="1.7"/>
<text y="266.95"><tspan x="151.70">M</tspan><tspan font-size="7.3" x="160.10" y="264.15">d</tspan><tspan font-size="7.3" x="159.50" y="270.95">s</tspan><tspan x="163.20" y="266.95">=2.0</tspan></text>
<line x1="116.70" y1="281.30" x2="148.70" y2="281.30" stroke="#00ff00" stroke-width="1.7"/>
<text y="284.25"><tspan x="151.70">M</tspan><tspan font-size="7.3" x="160.10" y="281.45">d</tspan><tspan font-size="7.3" x="159.50" y="288.25">s</tspan><tspan x="163.20" y="284.25">=1.8</tspan></text>
<line x1="116.70" y1="298.60" x2="148.70" y2="298.60" stroke="#0000ff" stroke-width="1.7"/>
<text y="301.55"><tspan x="151.70">M</tspan><tspan font-size="7.3" x="160.10" y="298.75">d</tspan><tspan font-size="7.3" x="159.50" y="305.55">s</tspan><tspan x="163.20" y="301.55">=1.6</tspan></text>
<line x1="116.70" y1="315.90" x2="148.70" y2="315.90" stroke="#000000" stroke-width="1.7"/>
<text y="318.85"><tspan x="151.70">M</tspan><tspan font-size="7.3" x="160.10" y="316.05">d</tspan><tspan font-size="7.3" x="159.50" y="322.85">s</tspan><tspan x="163.20" y="318.85">=1.4</tspan></text>
</g>
<g stroke="#000" stroke-opacity="0.5" stroke-width="1"><line x1="350.14" y1="251.70" x2="350.14" y2="412.50" stroke-dasharray="1 4"/><line x1="377.04" y1="251.70" x2="377.04" y2="412.50" stroke-dasharray="1 4"/><line x1="403.93" y1="251.70" x2="403.93" y2="412.50" stroke-dasharray="1 4"/><line x1="430.82" y1="251.70" x2="430.82" y2="412.50" stroke-dasharray="1 4"/><line x1="457.72" y1="251.70" x2="457.72" y2="412.50" stroke-dasharray="1 4"/><line x1="484.61" y1="251.70" x2="484.61" y2="412.50" stroke-dasharray="1 4"/><line x1="511.51" y1="251.70" x2="511.51" y2="412.50" stroke-dasharray="1 4"/><line x1="328.05" y1="268.98" x2="537.90" y2="268.98" stroke-dasharray="1 4"/><line x1="328.05" y1="289.55" x2="537.90" y2="289.55" stroke-dasharray="1 4"/><line x1="328.05" y1="310.12" x2="537.90" y2="310.12" stroke-dasharray="1 4"/><line x1="328.05" y1="330.70" x2="537.90" y2="330.70" stroke-dasharray="1 4"/><line x1="328.05" y1="351.27" x2="537.90" y2="351.27" stroke-dasharray="1 4"/><line x1="328.05" y1="371.85" x2="537.90" y2="371.85" stroke-dasharray="1 4"/><line x1="328.05" y1="392.43" x2="537.90" y2="392.43" stroke-dasharray="1 4"/></g>
<path d="M323.25,413.0 v-2.2 M323.25,248.4 v2.2 M323.25,248.40 h2.2 M538.4,248.40 h-2.2 M350.14,413.0 v-2.2 M350.14,248.4 v2.2 M323.25,268.98 h2.2 M538.4,268.98 h-2.2 M377.04,413.0 v-2.2 M377.04,248.4 v2.2 M323.25,289.55 h2.2 M538.4,289.55 h-2.2 M403.93,413.0 v-2.2 M403.93,248.4 v2.2 M323.25,310.12 h2.2 M538.4,310.12 h-2.2 M430.82,413.0 v-2.2 M430.82,248.4 v2.2 M323.25,330.70 h2.2 M538.4,330.70 h-2.2 M457.72,413.0 v-2.2 M457.72,248.4 v2.2 M323.25,351.27 h2.2 M538.4,351.27 h-2.2 M484.61,413.0 v-2.2 M484.61,248.4 v2.2 M323.25,371.85 h2.2 M538.4,371.85 h-2.2 M511.51,413.0 v-2.2 M511.51,248.4 v2.2 M323.25,392.43 h2.2 M538.4,392.43 h-2.2 M538.40,413.0 v-2.2 M538.40,248.4 v2.2 M323.25,413.00 h2.2 M538.4,413.00 h-2.2" stroke="#111" stroke-width="1" fill="none"/>
<rect x="323.25" y="248.4" width="215.14999999999998" height="164.6" fill="none" stroke="#1a1a1a" stroke-width="1"/>
<g clip-path="url(#cbr)" fill="none" stroke-width="1.5" stroke-linejoin="round" stroke-linecap="butt">
<path d="M323.00,268.98 L325.16,252.10 L325.83,299.40 L326.11,314.68 L326.38,325.46 L326.56,329.47 L327.45,338.79 L328.13,343.65 L328.54,345.65 L328.81,346.59 L329.07,347.22 L329.35,347.53 L329.75,347.54 L330.15,347.41 L330.69,347.08 L331.24,346.62 L333.53,344.08 L334.48,343.27 L334.88,343.05 L336.90,342.20 L337.99,341.82 L338.93,341.57 L340.14,341.41 L341.23,341.43 L342.44,341.59 L346.08,342.30 L347.03,342.38 L348.79,342.39 M405.73,342.39 L405.89,342.98 L406.16,346.15 L407.11,365.56 L408.32,384.87 L408.86,391.58 L409.13,393.56 L409.26,394.09 L409.40,394.28 L409.81,394.09 L410.07,393.78 L410.48,393.09 L411.15,391.50 L412.64,387.41 L413.05,386.49 L413.45,385.76 L413.72,385.43 L414.94,384.26 L416.42,383.08 L417.10,382.69 L417.63,382.46 L418.18,382.33 L418.85,382.31 L420.47,382.52 L423.98,383.33 L425.46,383.49 M485.00,443.00 L487.70,443.00 L487.84,414.08 L488.13,267.74 L488.24,269.69 L488.38,276.98 L488.51,288.54 L489.32,381.18 L489.46,389.42 L489.59,392.43 L489.73,390.44 L490.00,376.34 L491.08,272.30 L491.35,258.20 L491.48,256.22 L491.62,256.58 L491.75,257.66 L492.15,264.78 L492.56,277.06 L492.97,293.57 L493.77,335.71 L495.26,423.45 L495.67,443.00 L498.91,443.00 L499.44,407.41 L500.93,295.80 L501.47,260.94 L501.88,240.08 L502.14,229.47 L502.42,221.99 L502.55,219.55 L502.69,218.40 L502.96,218.40 L503.09,220.00 L503.36,227.04 L503.63,238.16 L504.03,261.36 L504.71,313.19 L506.06,437.53 L506.19,443.00 L510.11,443.00 L510.25,438.54 L511.87,275.51 L512.40,230.90 L512.54,221.50 L512.67,218.40 L514.57,218.40 L514.70,219.32 L515.51,282.84 L517.13,443.00 L521.32,443.00 L521.45,438.39 L523.21,258.09 L523.61,223.80 L523.75,218.40 L526.17,218.40 L526.31,221.29 L526.99,279.18 L528.61,443.00 L533.06,443.00 L533.19,440.81 L534.68,280.73 L535.36,218.40 L538.19,218.40 L538.33,224.68 L539.00,289.55" stroke="#ff0000"/>
<path d="M323.00,279.26 L325.16,265.68 L326.24,304.90 L326.64,315.92 L326.92,320.88 L327.19,323.72 L327.86,329.53 L328.94,337.25 L329.48,340.38 L330.02,343.00 L330.56,345.12 L331.10,346.72 L331.64,347.79 L332.05,348.24 L332.45,348.39 L333.12,348.25 L333.67,347.97 L334.34,347.44 L336.77,344.92 L337.71,344.11 L340.55,342.61 L341.50,342.22 L342.31,341.97 L343.25,341.82 L344.33,341.84 L349.32,342.37 M405.73,342.39 L405.89,342.95 L406.16,345.96 L406.97,361.94 L407.35,367.74 L408.46,379.10 L409.26,386.20 L409.94,390.42 L410.21,391.50 L410.48,392.19 L410.62,392.36 L410.75,392.43 L411.02,392.36 L411.29,392.16 L411.69,391.67 L412.37,390.45 L413.86,387.24 L414.26,386.52 L414.66,385.97 L416.56,384.33 L418.04,383.30 L419.25,382.77 L419.80,382.66 L420.33,382.63 L421.95,382.77 L426.00,383.43 M485.00,441.81 L485.13,442.98 L487.70,443.00 L487.84,416.34 L488.13,304.78 L488.24,306.15 L488.38,311.27 L488.51,319.39 L489.32,384.52 L489.46,390.31 L489.59,392.43 L489.73,391.08 L490.00,381.49 L490.94,318.19 L491.21,304.97 L491.35,301.19 L491.48,299.84 L491.62,300.06 L491.88,301.76 L492.29,307.18 L492.83,318.99 L493.50,339.45 L495.67,421.52 L496.34,443.00 L499.58,443.00 L500.25,421.08 L501.74,366.41 L502.42,344.92 L502.82,334.63 L503.23,326.98 L503.63,322.54 L503.76,321.87 L503.90,321.65 L504.03,321.87 L504.17,322.54 L504.58,326.98 L504.98,334.63 L505.38,344.92 L506.06,366.41 L507.54,421.08 L508.22,443.00 L511.33,443.00 L511.46,440.91 L511.73,431.78 L513.49,364.49 L514.16,342.25 L514.57,331.92 L514.84,326.69 L515.24,321.81 L515.38,321.07 L515.51,320.82 L515.64,321.07 L515.78,321.81 L516.18,326.69 L516.46,331.92 L516.86,342.25 L517.53,364.49 L519.29,431.78 L519.56,440.91 L519.69,443.00 L522.80,443.00 L523.48,420.81 L524.96,365.84 L525.63,344.23 L526.04,333.88 L526.44,326.19 L526.85,321.72 L526.99,321.05 L527.12,320.82 L527.25,321.05 L527.39,321.72 L527.79,326.19 L528.20,333.88 L528.61,344.23 L529.28,365.84 L530.76,420.81 L531.44,443.00 L535.49,443.00 L535.62,442.88 L536.57,418.65 L537.38,391.88 L538.19,359.55 L539.00,321.65" stroke="#00ff00"/>
<path d="M323.00,293.67 L325.16,280.50 L326.51,308.38 L327.05,317.06 L327.45,321.49 L328.13,325.73 L328.94,330.24 L329.75,334.28 L330.43,337.27 L331.24,340.39 L331.91,342.61 L332.72,344.77 L333.39,346.16 L334.07,347.17 L334.61,347.69 L335.15,347.95 L335.82,347.94 L336.50,347.69 L337.18,347.26 L339.61,345.14 L340.42,344.52 L343.12,343.01 L344.47,342.38 L345.41,342.10 L346.22,342.02 L347.84,342.07 L350.81,342.31 M405.73,342.39 L405.89,342.90 L406.16,345.68 L407.11,363.19 L407.46,367.74 L408.73,377.61 L409.67,383.82 L410.21,386.71 L410.62,388.49 L411.02,389.91 L411.43,390.92 L411.69,391.35 L411.96,391.57 L412.37,391.55 L412.77,391.29 L413.18,390.85 L413.58,390.28 L415.34,387.19 L416.15,386.08 L418.31,384.48 L419.93,383.52 L421.14,383.05 L422.23,382.88 L423.98,382.96 L427.22,383.36 M485.00,433.57 L485.54,437.59 L486.08,440.03 L486.35,440.78 L486.75,441.45 L487.16,441.74 L487.70,441.81 L488.13,333.17 L488.24,334.16 L488.38,337.86 L488.51,343.74 L489.32,390.83 L489.46,395.01 L489.59,396.54 L489.73,395.47 L490.00,388.05 L490.67,356.30 L490.94,346.25 L491.08,343.29 L491.21,342.22 L491.35,342.29 L491.48,342.49 L491.88,343.79 L492.43,346.75 L494.05,358.56 L494.99,368.68 L497.01,395.54 L497.83,404.98 L498.23,408.81 L498.63,411.86 L499.04,413.97 L499.31,414.78 L499.44,414.99 L499.58,415.06 L499.72,414.99 L499.85,414.79 L500.12,414.04 L500.39,412.83 L500.79,410.31 L501.61,403.25 L503.36,384.40 L504.03,378.08 L504.44,375.05 L504.85,372.80 L505.25,371.50 L505.38,371.30 L505.52,371.23 L505.66,371.28 L505.79,371.44 L506.19,372.45 L506.47,373.54 L506.87,375.73 L507.68,381.63 L509.57,398.66 L510.38,405.09 L510.78,407.65 L511.19,409.63 L511.60,410.90 L511.87,411.30 L512.00,411.35 L512.13,411.32 L512.27,411.21 L512.54,410.80 L512.94,409.74 L513.35,408.22 L514.16,404.10 L516.05,392.23 L516.86,387.74 L517.26,385.95 L517.67,384.57 L518.08,383.69 L518.35,383.41 L518.62,383.40 L519.02,383.84 L519.42,384.73 L519.83,386.02 L520.64,389.45 L522.39,398.45 L523.07,401.50 L523.75,403.82 L524.15,404.72 L524.42,405.06 L524.56,405.15 L524.83,405.16 L525.23,404.92 L525.63,404.41 L526.17,403.38 L527.12,400.86 L529.14,394.28 L529.96,391.99 L530.36,391.06 L530.76,390.32 L531.17,389.81 L531.58,389.56 L531.98,389.60 L532.38,389.89 L532.79,390.39 L533.33,391.34 L534.14,393.19 L536.16,398.58 L536.71,399.82 L537.25,400.83 L537.78,401.54 L538.19,401.83 L538.46,401.89 L538.60,401.85 L539.00,401.48" stroke="#0000ff"/>
<path d="M323.00,328.64 L323.81,320.32 L324.49,315.53 L324.75,314.23 L325.02,313.32 L325.43,312.52 L325.70,312.21 L325.83,312.18 L325.97,312.26 L326.24,312.69 L326.64,313.95 L327.19,316.44 L328.54,323.85 L330.15,330.85 L331.24,335.12 L332.72,339.75 L333.67,342.22 L334.07,343.05 L334.48,343.70 L335.42,344.77 L336.23,345.55 L336.90,346.07 L337.58,346.41 L338.12,346.54 L338.52,346.53 L339.47,346.26 L340.42,345.74 L342.44,344.38 L343.52,343.87 L346.76,342.89 L347.98,342.64 L349.06,342.52 L355.13,342.39 L405.75,342.39 L405.89,342.66 L406.02,343.26 L406.43,346.71 L407.51,360.42 L408.73,373.34 L409.13,376.82 L409.81,381.27 L410.48,384.86 L410.75,385.90 L411.02,386.66 L411.83,388.35 L412.50,389.49 L413.18,390.29 L413.72,390.61 L413.99,390.66 L414.39,390.59 L415.20,390.15 L415.88,389.57 L417.77,387.70 L420.20,385.86 L421.42,385.06 L422.23,384.66 L424.12,383.98 L425.19,383.67 L426.14,383.52 L485.00,383.50 M485.00,421.23 L485.54,423.24 L486.08,424.46 L486.35,424.83 L486.75,425.17 L487.16,425.31 L487.70,425.35 L488.13,364.44 L488.24,364.76 L488.38,365.95 L488.51,367.87 L489.46,388.53 L489.73,391.94 L489.86,392.43 L490.00,392.37 L490.26,391.96 L490.53,391.21 L490.81,390.17 L492.43,381.53 L492.97,379.24 L493.24,378.48 L493.50,378.08 L493.77,378.04 L494.05,378.20 L494.45,378.73 L494.86,379.55 L495.26,380.63 L495.80,382.43 L496.75,386.26 L498.91,396.05 L499.85,399.66 L500.25,400.90 L500.66,401.90 L501.07,402.63 L501.47,403.04 L501.88,403.12 L502.42,402.97 L502.96,402.64 L503.50,402.16 L504.71,400.65 L507.14,396.94 L508.09,395.65 L508.62,395.04 L509.17,394.56 L509.71,394.23 L510.11,394.10 L511.06,394.12 L512.27,394.45 L513.49,395.00 L517.13,396.96 L518.21,397.36 L519.15,397.55 L520.10,397.55 L521.32,397.44 L525.77,396.57 L527.66,396.35 L534.14,396.37 L539.00,396.54" stroke="#000000"/>
<line x1="485.00" x2="485.00" y1="382.75" y2="421.98" stroke="#000" stroke-width="1.05"/>
</g>
<g font-family='"Liberation Serif", serif' font-size="9" fill="#111">
<text x="323.25" y="424.50" text-anchor="middle">0</text>
<text x="350.14" y="424.50" text-anchor="middle">5</text>
<text x="377.04" y="424.50" text-anchor="middle">10</text>
<text x="403.93" y="424.50" text-anchor="middle">15</text>
<text x="430.82" y="424.50" text-anchor="middle">20</text>
<text x="457.72" y="424.50" text-anchor="middle">25</text>
<text x="484.61" y="424.50" text-anchor="middle">30</text>
<text x="511.51" y="424.50" text-anchor="middle">35</text>
<text x="538.40" y="424.50" text-anchor="middle">40</text>
<text x="319.75" y="251.90" text-anchor="end">3</text>
<text x="319.75" y="272.48" text-anchor="end">2.5</text>
<text x="319.75" y="293.05" text-anchor="end">2</text>
<text x="319.75" y="313.62" text-anchor="end">1.5</text>
<text x="319.75" y="334.20" text-anchor="end">1</text>
<text x="319.75" y="354.77" text-anchor="end">0.5</text>
<text x="319.75" y="375.35" text-anchor="end">0</text>
<text x="319.75" y="395.93" text-anchor="end">−0.5</text>
<text x="319.75" y="416.50" text-anchor="end">−1</text>
<text x="430.82" y="435.50" text-anchor="middle">Time [sec]</text>
<text x="430.82" y="242.30" text-anchor="middle">regulator optimization</text>
<text transform="translate(296.45,330.70) rotate(-90)" text-anchor="middle">Input [−]</text>
</g>
<rect x="393.65" y="253.80" width="74.6" height="72.5" fill="#fff" stroke="#1a1a1a" stroke-width="1"/>
<g font-family='"Liberation Serif", serif' font-size="9" fill="#111">
<line x1="400.15" y1="264.00" x2="432.15" y2="264.00" stroke="#ff0000" stroke-width="1.7"/>
<text y="266.95"><tspan x="435.15">M</tspan><tspan font-size="7.3" x="443.55" y="264.15">d</tspan><tspan font-size="7.3" x="442.95" y="270.95">s</tspan><tspan x="446.65" y="266.95">=2.0</tspan></text>
<line x1="400.15" y1="281.30" x2="432.15" y2="281.30" stroke="#00ff00" stroke-width="1.7"/>
<text y="284.25"><tspan x="435.15">M</tspan><tspan font-size="7.3" x="443.55" y="281.45">d</tspan><tspan font-size="7.3" x="442.95" y="288.25">s</tspan><tspan x="446.65" y="284.25">=1.8</tspan></text>
<line x1="400.15" y1="298.60" x2="432.15" y2="298.60" stroke="#0000ff" stroke-width="1.7"/>
<text y="301.55"><tspan x="435.15">M</tspan><tspan font-size="7.3" x="443.55" y="298.75">d</tspan><tspan font-size="7.3" x="442.95" y="305.55">s</tspan><tspan x="446.65" y="301.55">=1.6</tspan></text>
<line x1="400.15" y1="315.90" x2="432.15" y2="315.90" stroke="#000000" stroke-width="1.7"/>
<text y="318.85"><tspan x="435.15">M</tspan><tspan font-size="7.3" x="443.55" y="316.05">d</tspan><tspan font-size="7.3" x="442.95" y="322.85">s</tspan><tspan x="446.65" y="318.85">=1.4</tspan></text>
</g>
</svg>
</body></html>
